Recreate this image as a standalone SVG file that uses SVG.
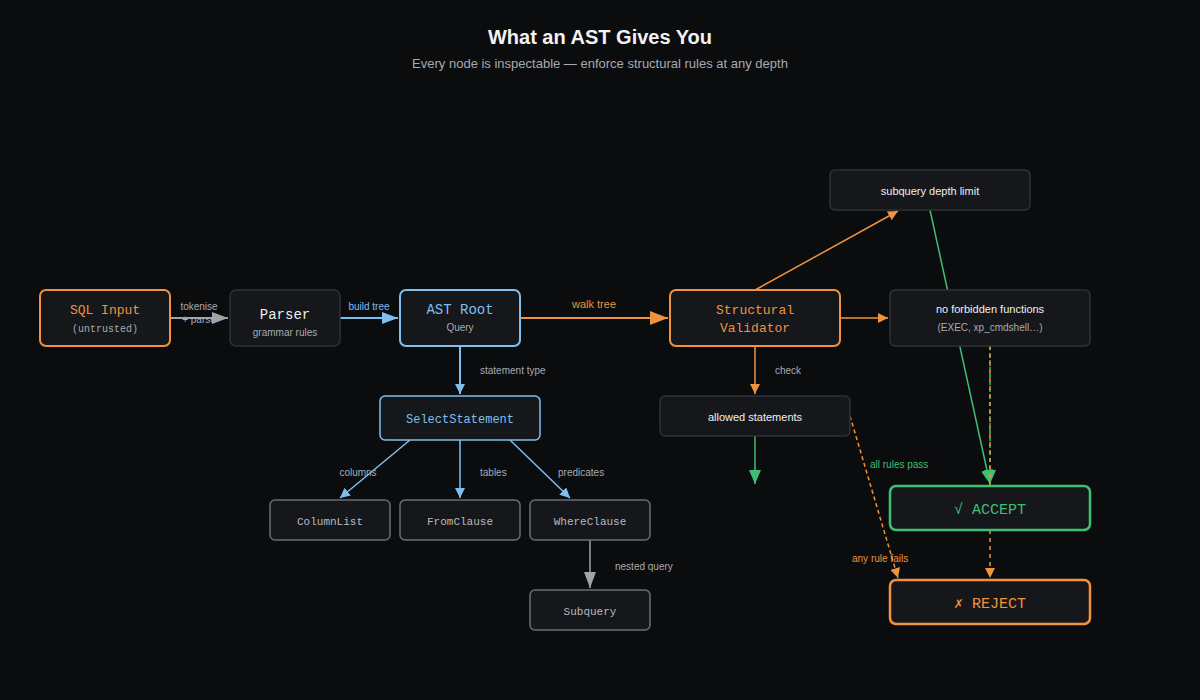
<svg xmlns="http://www.w3.org/2000/svg" width="1200" height="700" viewBox="0 0 1200 700">
<defs>
<style>
.n{fill:#15171b;stroke:#2e3136;stroke-width:1.5}
.o{stroke:#f0923e;stroke-width:2}
.b{stroke:#7fbff0;stroke-width:2}
.g{stroke:#3fbf73;stroke-width:2.5}
.m{font-family:"Liberation Mono",monospace}
.s{font-family:"Liberation Sans",Arial,sans-serif}
.l{font-family:"Liberation Sans",Arial,sans-serif;font-size:10px;fill:#a8aaae}
</style>
<marker id="ao" viewBox="0 0 10 10" refX="10" refY="5" markerWidth="10" markerHeight="10" orient="auto" markerUnits="userSpaceOnUse"><path d="M0,0L10,5L0,10z" fill="#f0923e"/></marker>
<marker id="aoL" viewBox="0 0 10 10" refX="10" refY="5" markerWidth="18" markerHeight="14" orient="auto" markerUnits="userSpaceOnUse" preserveAspectRatio="none"><path d="M0,0L10,5L0,10z" fill="#f0923e"/></marker>
<marker id="ab" viewBox="0 0 10 10" refX="10" refY="5" markerWidth="16" markerHeight="12" orient="auto" markerUnits="userSpaceOnUse" preserveAspectRatio="none"><path d="M0,0L10,5L0,10z" fill="#7fbff0"/></marker>
<marker id="abS" viewBox="0 0 10 10" refX="10" refY="5" markerWidth="10" markerHeight="10" orient="auto" markerUnits="userSpaceOnUse"><path d="M0,0L10,5L0,10z" fill="#7fbff0"/></marker>
<marker id="ag" viewBox="0 0 10 10" refX="10" refY="5" markerWidth="14" markerHeight="12" orient="auto" markerUnits="userSpaceOnUse" preserveAspectRatio="none"><path d="M0,0L10,5L0,10z" fill="#3fbf73"/></marker>
<marker id="agr" viewBox="0 0 10 10" refX="10" refY="5" markerWidth="16" markerHeight="12" orient="auto" markerUnits="userSpaceOnUse" preserveAspectRatio="none"><path d="M0,0L10,5L0,10z" fill="#a0a3a8"/></marker>
</defs>
<rect width="1200" height="700" fill="#0b0c0e"/>
<text x="600" y="44" text-anchor="middle" class="s" font-size="20" font-weight="bold" fill="#f2f2f2">What an AST Gives You</text>
<text x="600" y="68" text-anchor="middle" class="s" font-size="13" fill="#a8aaae">Every node is inspectable — enforce structural rules at any depth</text>
<g id="connectors" fill="none">
<line x1="170" y1="318" x2="228" y2="318" stroke="#a0a3a8" stroke-width="2" marker-end="url(#agr)"/>
<line x1="340" y1="318" x2="398" y2="318" class="b" marker-end="url(#ab)"/>
<line x1="520" y1="318" x2="668" y2="318" class="o" marker-end="url(#aoL)"/>
<line x1="460" y1="346" x2="460" y2="394" class="b" stroke-width="1.5" marker-end="url(#abS)"/>
<line x1="410" y1="440" x2="340" y2="498" stroke="#7fbff0" stroke-width="1.5" marker-end="url(#abS)"/>
<line x1="460" y1="440" x2="460" y2="498" stroke="#7fbff0" stroke-width="1.5" marker-end="url(#abS)"/>
<line x1="510" y1="440" x2="570" y2="498" stroke="#7fbff0" stroke-width="1.5" marker-end="url(#abS)"/>
<line x1="590" y1="540" x2="590" y2="588" stroke="#a0a3a8" stroke-width="1.5" marker-end="url(#agr)"/>
<line x1="755" y1="290" x2="898" y2="211" stroke="#f0923e" stroke-width="1.5" marker-end="url(#ao)"/>
<line x1="840" y1="318" x2="888" y2="318" stroke="#f0923e" stroke-width="1.5" marker-end="url(#ao)"/>
<line x1="755" y1="346" x2="755" y2="394" stroke="#f0923e" stroke-width="1.5" marker-end="url(#ao)"/>
<line x1="755" y1="436" x2="755" y2="484" stroke="#3fbf73" stroke-width="1.5" marker-end="url(#ag)"/>
<line x1="930" y1="210" x2="990" y2="484" stroke="#3fbf73" stroke-width="1.5" marker-end="url(#ag)"/>
<line x1="990" y1="346" x2="990" y2="484" stroke="#3fbf73" stroke-width="1.5" stroke-dasharray="4 3" marker-end="url(#ag)"/>
<line x1="990" y1="346" x2="990" y2="578" stroke="#f0923e" stroke-width="1.5" stroke-dasharray="4 4" marker-end="url(#ao)"/>
<line x1="850" y1="416" x2="898" y2="578" stroke="#f0923e" stroke-width="1.5" stroke-dasharray="4 3" marker-end="url(#ao)"/>
</g>
<g id="labels">
<text x="199" y="310" text-anchor="middle" class="l">tokenise</text>
<text x="199" y="323" text-anchor="middle" class="l">+ parse</text>
<text x="369" y="310" text-anchor="middle" class="l" style="fill:#7fbff0">build tree</text>
<text x="594" y="308" text-anchor="middle" class="s" font-size="11" fill="#f0923e">walk tree</text>
<text x="480" y="374" class="l">statement type</text>
<text x="358" y="476" text-anchor="middle" class="l">columns</text>
<text x="480" y="476" class="l">tables</text>
<text x="558" y="476" class="l">predicates</text>
<text x="615" y="570" class="l">nested query</text>
<text x="775" y="374" class="l">check</text>
<text x="870" y="468" class="l" style="fill:#3fbf73">all rules pass</text>
<text x="852" y="562" class="l" style="fill:#f0923e">any rule fails</text>
</g>
<g id="sql"><rect x="40" y="290" width="130" height="56" rx="6" class="n o"/><text x="105" y="314" text-anchor="middle" class="m" font-size="13" fill="#f0923e">SQL Input</text><text x="105" y="332" text-anchor="middle" class="m" font-size="10" fill="#a8aaae">(untrusted)</text></g>
<g id="parser"><rect x="230" y="290" width="110" height="56" rx="6" class="n"/><text x="285" y="319" text-anchor="middle" class="m" font-size="14" fill="#f0f0f0">Parser</text><text x="285" y="336" text-anchor="middle" class="s" font-size="10" fill="#a8aaae">grammar rules</text></g>
<g id="ast"><rect x="400" y="290" width="120" height="56" rx="6" class="n b"/><text x="460" y="314" text-anchor="middle" class="m" font-size="14" fill="#7fbff0">AST Root</text><text x="460" y="331" text-anchor="middle" class="s" font-size="10" fill="#a8aaae">Query</text></g>
<g id="validator"><rect x="670" y="290" width="170" height="56" rx="6" class="n o"/><text x="755" y="314" text-anchor="middle" class="m" font-size="13" fill="#f0923e">Structural</text><text x="755" y="332" text-anchor="middle" class="m" font-size="13" fill="#f0923e">Validator</text></g>
<g id="depth"><rect x="830" y="170" width="200" height="40" rx="5" class="n"/><text x="930" y="195" text-anchor="middle" class="s" font-size="11" fill="#f0f0f0">subquery depth limit</text></g>
<g id="forbidden"><rect x="890" y="290" width="200" height="56" rx="5" class="n"/><text x="990" y="313" text-anchor="middle" class="s" font-size="11" fill="#f0f0f0">no forbidden functions</text><text x="990" y="331" text-anchor="middle" class="s" font-size="10" fill="#a8aaae">(EXEC, xp_cmdshell…)</text></g>
<g id="allowed"><rect x="660" y="396" width="190" height="40" rx="5" class="n"/><text x="755" y="421" text-anchor="middle" class="s" font-size="11" fill="#f0f0f0">allowed statements</text></g>
<g id="select"><rect x="380" y="396" width="160" height="44" rx="5" class="n" style="stroke:#7fbff0"/><text x="460" y="423" text-anchor="middle" class="m" font-size="12" fill="#7fbff0">SelectStatement</text></g>
<g id="columns"><rect x="270" y="500" width="120" height="40" rx="5" class="n" style="stroke:#6a6d72"/><text x="330" y="525" text-anchor="middle" class="m" font-size="11" fill="#b8babe">ColumnList</text></g>
<g id="from"><rect x="400" y="500" width="120" height="40" rx="5" class="n" style="stroke:#6a6d72"/><text x="460" y="525" text-anchor="middle" class="m" font-size="11" fill="#b8babe">FromClause</text></g>
<g id="where"><rect x="530" y="500" width="120" height="40" rx="5" class="n" style="stroke:#6a6d72"/><text x="590" y="525" text-anchor="middle" class="m" font-size="11" fill="#b8babe">WhereClause</text></g>
<g id="subquery"><rect x="530" y="590" width="120" height="40" rx="5" class="n" style="stroke:#6a6d72"/><text x="590" y="615" text-anchor="middle" class="m" font-size="11" fill="#b8babe">Subquery</text></g>
<g id="accept"><rect x="890" y="486" width="200" height="44" rx="6" class="n g"/><text x="990" y="514" text-anchor="middle" class="m" font-size="15" fill="#3fbf73">√ ACCEPT</text></g>
<g id="reject"><rect x="890" y="580" width="200" height="44" rx="6" class="n" style="stroke:#f0923e;stroke-width:2.5"/><text x="990" y="608" text-anchor="middle" class="m" font-size="15" fill="#f0923e">✗ REJECT</text></g>
</svg>
